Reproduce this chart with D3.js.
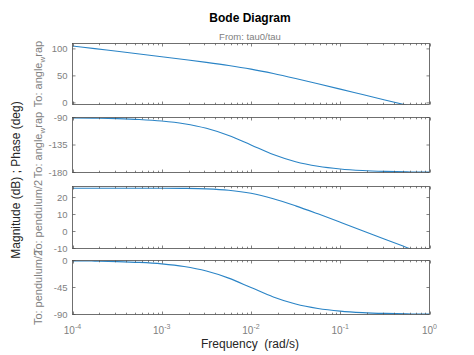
<!DOCTYPE html>
<html>
<head>
<meta charset="utf-8">
<script src="https://cdn.jsdelivr.net/npm/d3@7"></script>
<style>
  html, body { margin: 0; padding: 0; background: #fff; }
  svg { display: block; font-family: "Liberation Sans", Arial, Helvetica, sans-serif; }
</style>
</head>
<body>
<svg id="chart" width="474" height="355"></svg>
<script>
// ---- Data ----
const freqs = [1e-4, 1.778e-4, 3.162e-4, 5.623e-4, 1e-3, 1.778e-3, 3.162e-3, 5.623e-3,
               1e-2, 1.778e-2, 3.162e-2, 5.623e-2, 1e-1, 1.778e-1, 3.162e-1, 5.623e-1, 1];
const magAngleWrap   = [105.5, 100.5, 95.5, 90.5, 85.5, 80.4, 75.1, 69.3, 62.5, 54.3, 45.1, 35.4, 25.5, 15.5, 5.5, -4.5, -14.5];
const phaseAngleWrap = [-90.6, -91.0, -91.8, -93.2, -95.7, -100.1, -107.6, -119.4, -135, -150.7, -162.5, -169.9, -174.3, -176.8, -178.2, -179.0, -179.4];
const magPendulum    = [25.5, 25.5, 25.5, 25.5, 25.5, 25.4, 25.1, 24.3, 22.5, 19.3, 15.1, 10.4, 5.5, 0.5, -4.5, -9.5, -14.5];
const phasePendulum  = [-0.6, -1.0, -1.8, -3.2, -5.7, -10.1, -17.6, -29.4, -45, -60.7, -72.5, -79.9, -84.3, -86.8, -88.2, -89.0, -89.4];

const xTickExps = [-4, -3, -2, -1, 0];
const ticksP1 = [0, 50, 100];
const ticksP2 = [-180, -135, -90];
const ticksP3 = [-10, 0, 10, 20];
const ticksP4 = [-90, -45, 0];

const titleText = "Bode Diagram";
const fromText = "From: tau0/tau";
const xLabelText = "Frequency  (rad/s)";
const yLabelText = "Magnitude (dB) ; Phase (deg)";

// ---- Layout ----
const svg = d3.select("#chart");
const X0 = 72.5, X1 = 429.5;
const x = d3.scaleLog().domain([1e-4, 1]).range([X0, X1]);

const panels = [
  { values: magAngleWrap,   domain: [-3, 110],   top: 43.5,  bottom: 104.5, ticks: ticksP1, to: "angle" },
  { values: phaseAngleWrap, domain: [-180, -90], top: 117.5, bottom: 172.5, ticks: ticksP2, to: "angle" },
  { values: magPendulum,    domain: [-10, 26.5], top: 186.5, bottom: 248.5, ticks: ticksP3, to: "pend" },
  { values: phasePendulum,  domain: [-90, 0],    top: 260.5, bottom: 314.5, ticks: ticksP4, to: "pend" }
];

const axisColor = "#4d4d4d";
const labelColor = "#808080";
const lineColor = "#2a84c6";

// minor tick positions
const minorTicks = [];
for (let e = -4; e < 0; e++) for (let m = 2; m <= 9; m++) minorTicks.push(m * Math.pow(10, e));
const majorTicks = xTickExps.map(e => Math.pow(10, e));

panels.forEach((p, i) => {
  const y = d3.scaleLinear().domain(p.domain).range([p.bottom, p.top]);
  const g = svg.append("g");

  const cid = "clip" + i;
  svg.append("clipPath").attr("id", cid).append("rect")
    .attr("x", X0).attr("y", p.top).attr("width", X1 - X0).attr("height", p.bottom - p.top);

  const line = d3.line().x((d, k) => x(freqs[k])).y(d => y(d)).curve(d3.curveMonotoneX);
  g.append("path").datum(p.values)
    .attr("clip-path", `url(#${cid})`)
    .attr("d", line).attr("fill", "none")
    .attr("stroke", lineColor).attr("stroke-width", 1.1);

  g.append("rect").attr("x", X0).attr("y", p.top).attr("width", X1 - X0).attr("height", p.bottom - p.top)
    .attr("fill", "none").attr("stroke", axisColor).attr("stroke-width", 0.8);

  const tk = g.append("g").attr("stroke", axisColor).attr("stroke-width", 0.7);
  majorTicks.forEach(f => {
    const xx = Math.round(x(f)) + 0.5;
    tk.append("line").attr("x1", xx).attr("x2", xx).attr("y1", p.bottom).attr("y2", p.bottom - 3);
    tk.append("line").attr("x1", xx).attr("x2", xx).attr("y1", p.top).attr("y2", p.top + 3);
  });
  minorTicks.forEach(f => {
    const xx = Math.round(x(f)) + 0.5;
    tk.append("line").attr("x1", xx).attr("x2", xx).attr("y1", p.bottom).attr("y2", p.bottom - 1.8);
    tk.append("line").attr("x1", xx).attr("x2", xx).attr("y1", p.top).attr("y2", p.top + 1.8);
  });
  p.ticks.forEach(t => {
    const yy = y(t);
    tk.append("line").attr("x1", X0).attr("x2", X0 + 3).attr("y1", yy).attr("y2", yy);
    tk.append("line").attr("x1", X1).attr("x2", X1 - 3).attr("y1", yy).attr("y2", yy);
  });
  g.selectAll("text.yt").data(p.ticks).enter().append("text")
    .attr("x", X0 - 5).attr("y", d => y(d)).attr("dy", "0.35em")
    .attr("text-anchor", "end").attr("font-size", 9.5).attr("fill", labelColor)
    .text(d => d);

  const cy = (p.top + p.bottom) / 2;
  const t = svg.append("text")
    .attr("transform", `translate(42,${cy}) rotate(-90)`)
    .attr("text-anchor", "middle").attr("font-size", 11).attr("fill", labelColor);
  if (p.to === "angle") {
    t.append("tspan").text("To: angle");
    t.append("tspan").attr("font-size", 8).attr("dy", 2.5).text("w");
    t.append("tspan").attr("dy", -2.5).text("rap");
  } else {
    t.text("To: pendulum/2");
  }
});

const xl = svg.append("g");
xTickExps.forEach(e => {
  const t = xl.append("text").attr("x", x(Math.pow(10, e))).attr("y", 334)
    .attr("text-anchor", "middle").attr("font-size", 10).attr("fill", labelColor);
  t.append("tspan").text("10");
  t.append("tspan").attr("font-size", 7).attr("dy", -5).text(String(e));
});

svg.append("text").attr("x", 250).attr("y", 22).attr("text-anchor", "middle")
  .attr("font-size", 12).attr("font-weight", "bold").attr("fill", "#000").text(titleText);
svg.append("text").attr("x", 250).attr("y", 39.5).attr("text-anchor", "middle")
  .attr("font-size", 9.5).attr("fill", labelColor).text(fromText);
svg.append("text").attr("x", 250).attr("y", 348).attr("text-anchor", "middle")
  .attr("font-size", 12).attr("fill", "#262626").style("white-space", "pre").text(xLabelText);
svg.append("text").attr("transform", "translate(20,180) rotate(-90)").attr("text-anchor", "middle")
  .attr("font-size", 12).attr("fill", "#262626").text(yLabelText);
</script>
</body>
</html>
